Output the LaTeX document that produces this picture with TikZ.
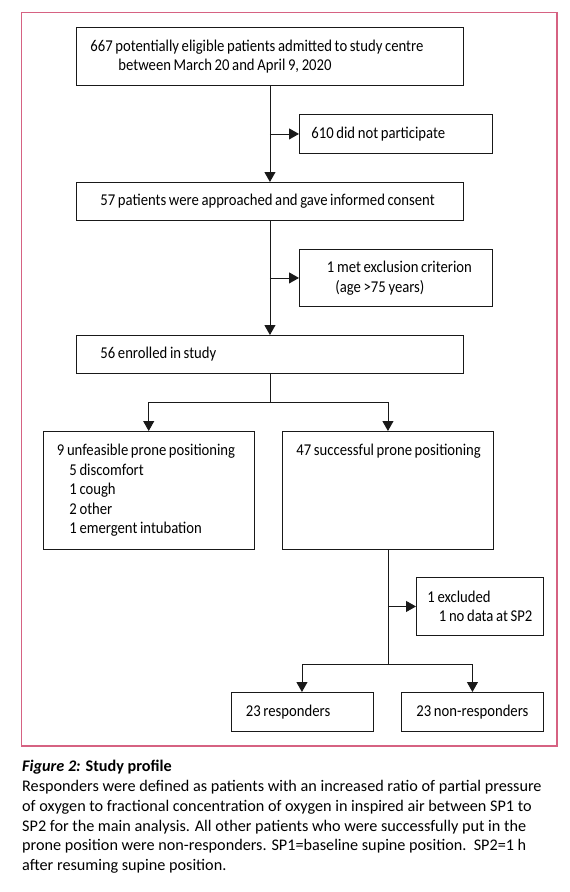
\documentclass[tikz,border=0pt]{standalone}
\usepackage{fontspec}
\setmainfont{Carlito}
\newfontfamily\boxfont[FakeStretch=0.89]{Carlito}
\usepackage{tikz}
\usetikzlibrary{arrows.meta}
\definecolor{framepink}{RGB}{214,98,130}
\def\indt#1#2{\hspace*{#1pt}\mbox{\spaceskip=0.16em\relax #2}}
\tikzset{
	stage/.style={draw=black!90, line width=0.9pt, anchor=north west, align=left, inner xsep=4pt, inner ysep=0pt, font=\boxfont\fontsize{16.5}{19.5}\selectfont},
	flow/.style={draw=black!90, line width=0.9pt, -{Triangle[length=10pt,width=11pt]}},
	link/.style={draw=black!90, line width=0.9pt}
}

\begin{document}
\begin{tikzpicture}[x=1pt, y=-1pt]
			%%%%% START %%%%%
			
			\useasboundingbox (0, 0) rectangle (570, 892);
			\draw[framepink, line width=1.2pt] (21.5, 12.5) rectangle (557, 746);
			
			\node[stage, text width=379pt, minimum height=58pt] (elig) at (76, 27) {\indt{10}{667 potentially eligible patients admitted to study centre}\\\indt{38}{between March 20 and April 9, 2020}};
			\node[stage, text width=185pt, minimum height=39pt] (nopart) at (299, 114) {\indt{8}{610 did not participate}};
			
			\node[stage, text width=379pt, minimum height=38pt] (consent) at (76, 182) {\indt{20}{57 patients were approached and gave informed consent}};
			\node[stage, text width=185pt, minimum height=57pt] (excl) at (299, 249) {\indt{23.5}{1 met exclusion criterion}\\\indt{32}{(age >75 years)}};
			
			\node[stage, text width=379pt, minimum height=38pt] (enrol) at (76, 335) {\indt{20}{56 enrolled in study}};
			
			\node[stage, text width=203.5pt, minimum height=118pt] (unfeas) at (42.5, 431) {\indt{10}{9 unfeasible prone positioning}\\\indt{22.5}{5 discomfort}\\\indt{22.5}{1 cough}\\\indt{22.5}{2 other}\\\indt{22.5}{1 emergent intubation}};
			\node[stage, text width=203pt, text height=24pt, text depth=94pt] (succ) at (282, 431) {\indt{10}{47 successful prone positioning}};
			
			\node[stage, text width=119pt, minimum height=58pt] (nodata) at (416, 577) {\indt{7}{1 excluded}\\\indt{18.5}{1 no data at SP2}};
			
			\node[stage, text width=134pt, minimum height=39pt] (resp) at (230.5, 692) {\indt{11}{23 responders}};
			\node[stage, text width=134pt, minimum height=39pt] (nonresp) at (401, 692) {\indt{11}{23 non-responders}};
			
			% main line
			\draw[flow] (elig.south) -- (consent.north);
			\draw[flow] (elig.south |- nopart.west) -- (nopart.west);
			\draw[flow] (consent.south) -- (enrol.north);
			\draw[flow] (consent.south |- excl.west) -- (excl.west);
			
			% split after enrolment
			\coordinate (forkA) at ([yshift=-29pt]enrol.south);
			\draw[link] (enrol.south) -- (forkA);
			\draw[flow] (forkA) -| (unfeas.north);
			\draw[flow] (forkA) -| (succ.north);
			
			% split after prone positioning
			\coordinate (forkB) at ([yshift=-115pt]succ.south);
			\draw[link] (succ.south) -- (forkB);
			\draw[flow] (succ.south |- nodata.west) -- (nodata.west);
			\draw[flow] (forkB) -| (resp.north);
			\draw[flow] (forkB) -| (nonresp.north);
			
			\node[anchor=north west, align=left, inner sep=0pt, font=\fontsize{16.2}{19.8}\selectfont] (caption) at (22, 760) {\textbf{\textit{Figure 2:} Study profile}\\Responders were defined as patients with an increased ratio of partial pressure\\of oxygen to fractional concentration of oxygen in inspired air between SP1 to\\SP2 for the main analysis. All other patients who were successfully put in the\\prone position were non-responders. SP1=baseline supine position.\ \ SP2=1 h\\after resuming supine position.};
			
			%%%%% END %%%%%
\end{tikzpicture}
\end{document}
